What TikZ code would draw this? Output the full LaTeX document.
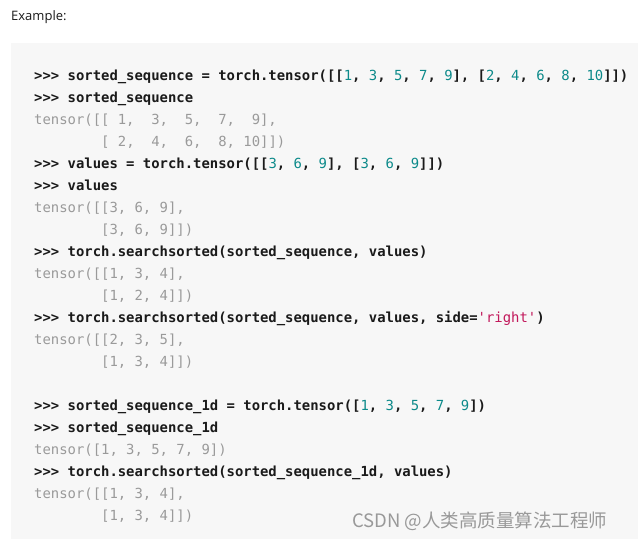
\documentclass[tikz,border=0pt]{standalone}
\usepackage{fontspec}
\setmainfont{Open Sans}
\setmonofont{DejaVu Sans Mono}
\newfontfamily\cjk{Noto Sans CJK SC}
\definecolor{codebg}{HTML}{F7F7F7}
\definecolor{codefg}{HTML}{1A1A1A}
\definecolor{numc}{HTML}{0C8A8A}
\definecolor{outc}{HTML}{9A9A9A}
\definecolor{strc}{HTML}{C2185B}
\newcommand{\nm}[1]{\textcolor{numc}{\mdseries #1}}
\begin{document}
\begin{tikzpicture}[x=1pt,y=-1pt,
  codeline/.style={anchor=base west,inner sep=0pt,font=\ttfamily\bfseries\fontsize{13.9}{16}\selectfont,text=codefg},
  outline/.style={anchor=base west,inner sep=0pt,font=\ttfamily\fontsize{13.9}{16}\selectfont,text=outc}]
\useasboundingbox (0,0) rectangle (638,539);
\fill[white] (0,0) rectangle (638,539);
\fill[codebg] (11,43) rectangle (638,539);
\node[anchor=base west,inner sep=0pt,font=\fontsize{13}{15}\selectfont,text=codefg] (ex) at (11,20) {Example:};
\node[codeline] (l1) at (34,80) {>>> sorted\_sequence = torch.tensor([[\nm{1}, \nm{3}, \nm{5}, \nm{7}, \nm{9}], [\nm{2}, \nm{4}, \nm{6}, \nm{8}, \nm{10}]])};
\node[codeline] (l2) at (34,102) {>>> sorted\_sequence};
\node[outline] (l3) at (34,124) {tensor([[ 1,\ \ 3,\ \ 5,\ \ 7,\ \ 9],};
\node[outline] (l4) at (34,146) {\phantom{tensor([}[ 2,\ \ 4,\ \ 6,\ \ 8, 10]])};
\node[codeline] (l5) at (34,168) {>>> values = torch.tensor([[\nm{3}, \nm{6}, \nm{9}], [\nm{3}, \nm{6}, \nm{9}]])};
\node[codeline] (l6) at (34,190) {>>> values};
\node[outline] (l7) at (34,212) {tensor([[3, 6, 9],};
\node[outline] (l8) at (34,234) {\phantom{tensor([}[3, 6, 9]])};
\node[codeline] (l9) at (34,256) {>>> torch.searchsorted(sorted\_sequence, values)};
\node[outline] (l10) at (34,278) {tensor([[1, 3, 4],};
\node[outline] (l11) at (34,300) {\phantom{tensor([}[1, 2, 4]])};
\node[codeline] (l12) at (34,322) {>>> torch.searchsorted(sorted\_sequence, values, side=\textcolor{strc}{\mdseries'right'})};
\node[outline] (l13) at (34,344) {tensor([[2, 3, 5],};
\node[outline] (l14) at (34,366) {\phantom{tensor([}[1, 3, 4]])};
\node[codeline] (l15) at (34,410) {>>> sorted\_sequence\_1d = torch.tensor([\nm{1}, \nm{3}, \nm{5}, \nm{7}, \nm{9}])};
\node[codeline] (l16) at (34,432) {>>> sorted\_sequence\_1d};
\node[outline] (l17) at (34,454) {tensor([1, 3, 5, 7, 9])};
\node[codeline] (l18) at (34,476) {>>> torch.searchsorted(sorted\_sequence\_1d, values)};
\node[outline] (l19) at (34,498) {tensor([[1, 3, 4],};
\node[outline] (l20) at (34,520) {\phantom{tensor([}[1, 3, 4]])};
\node[anchor=base west,inner sep=0pt,font=\cjk\fontsize{18.5}{21}\selectfont,text=black!40] (wm) at (352,527) {CSDN @人类高质量算法工程师};
\end{tikzpicture}
\end{document}
